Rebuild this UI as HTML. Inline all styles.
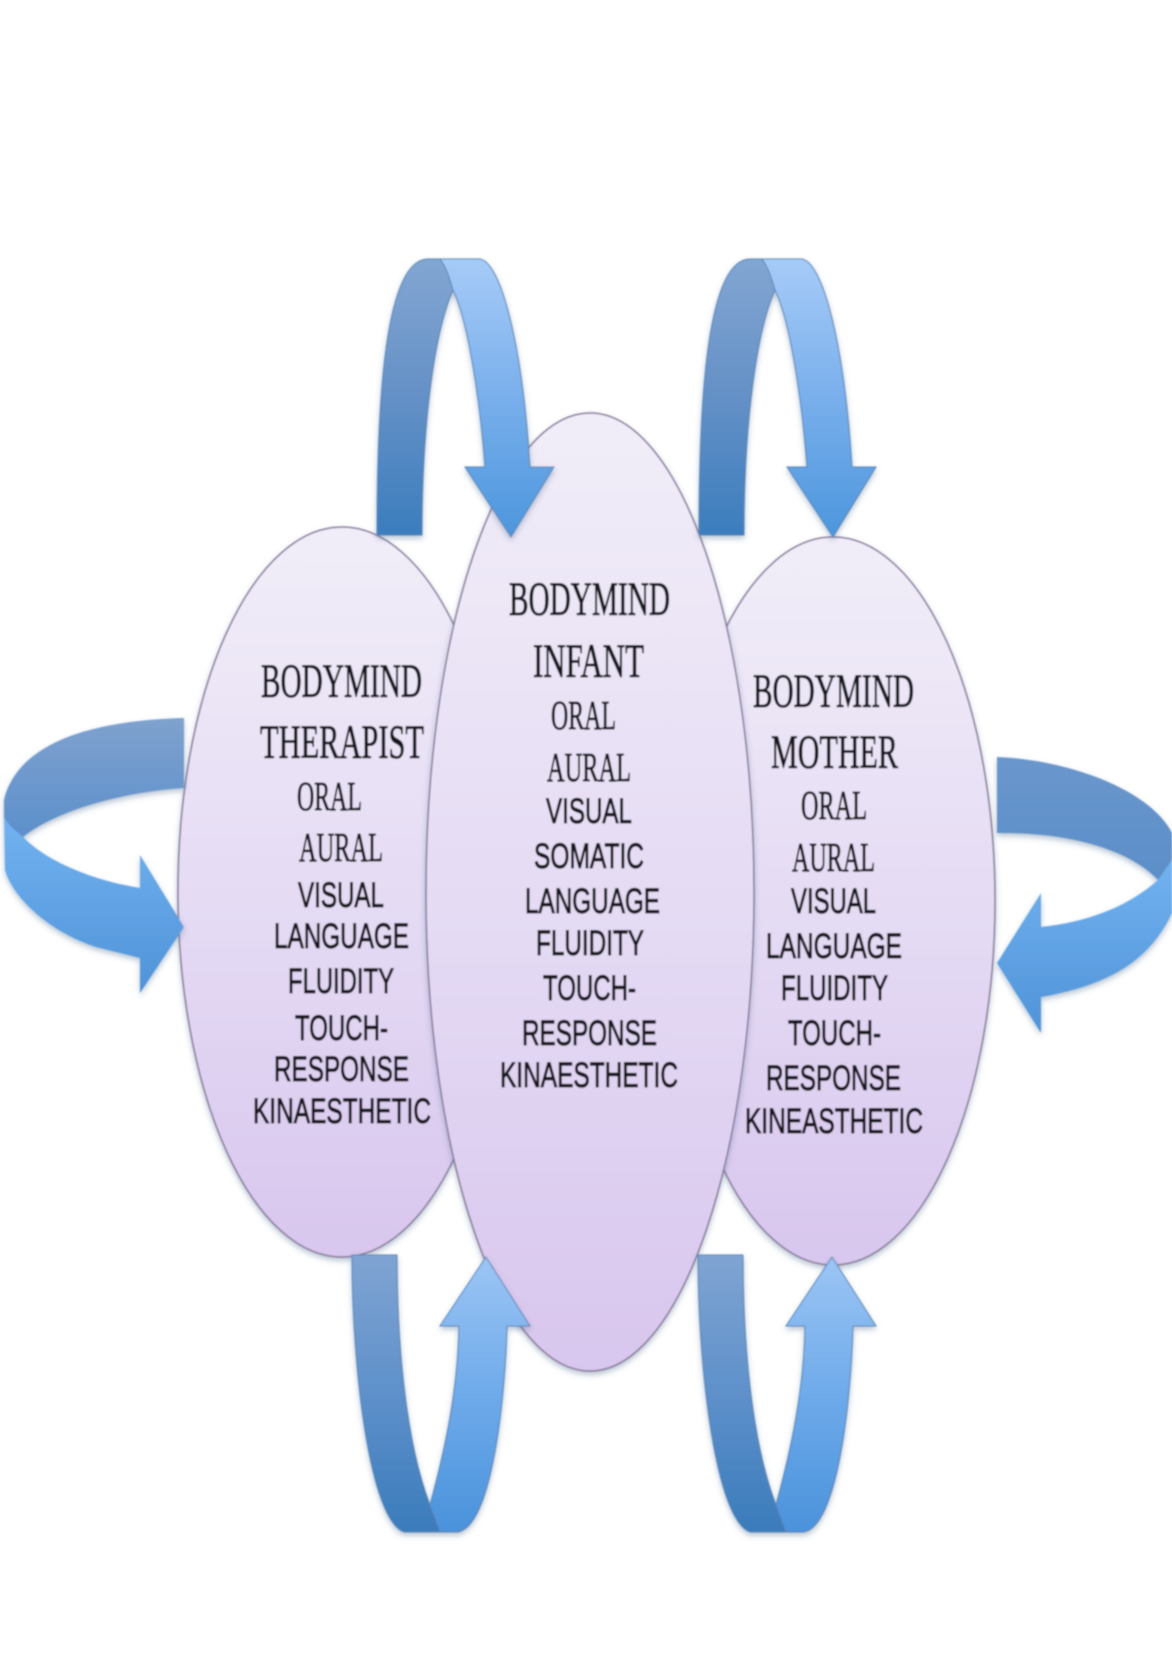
<!DOCTYPE html>
<html>
<head>
<meta charset="utf-8">
<style>
html,body{margin:0;padding:0;background:#fff;width:1172px;height:1660px;overflow:hidden}
svg{display:block}
text{stroke:#1a1a24;paint-order:stroke}
.t{font-family:"Liberation Serif",serif;font-size:48px;fill:#14141e;stroke-width:.9px}
.s{font-family:"Liberation Serif",serif;font-size:41px;fill:#14141e;stroke-width:.9px}
.a{font-family:"Liberation Sans",sans-serif;font-size:35px;fill:#14141e;stroke-width:1px}
</style>
</head>
<body>
<svg xmlns="http://www.w3.org/2000/svg" width="1172" height="1660" viewBox="0 0 1172 1660">
<defs>
<linearGradient id="lil" x1="0" y1="0" x2="0" y2="1"><stop offset="0" stop-color="#f1edf8"/><stop offset=".5" stop-color="#e5dcf4"/><stop offset="1" stop-color="#d8c6ee"/></linearGradient>
<linearGradient id="dk" x1="0" y1="0" x2="0" y2="1"><stop offset="0" stop-color="#82a6d2"/><stop offset=".5" stop-color="#6490c6"/><stop offset="1" stop-color="#3b7dbd"/></linearGradient>
<linearGradient id="lt" x1="0" y1="0" x2="0" y2="1"><stop offset="0" stop-color="#a6cbf8"/><stop offset=".55" stop-color="#74acea"/><stop offset="1" stop-color="#4c96dd"/></linearGradient>
<linearGradient id="dk2" x1="0" y1="0" x2="0" y2="1"><stop offset="0" stop-color="#7fa4d2"/><stop offset=".5" stop-color="#5e90ca"/><stop offset="1" stop-color="#3a7bbb"/></linearGradient>
<linearGradient id="lt2" x1="0" y1="0" x2="0" y2="1"><stop offset="0" stop-color="#9cc5f5"/><stop offset=".5" stop-color="#6eaaea"/><stop offset="1" stop-color="#4a92db"/></linearGradient>
<linearGradient id="sb" x1="0" y1="0" x2="0" y2="1"><stop offset="0" stop-color="#7fa2ce"/><stop offset="1" stop-color="#5c8fcb"/></linearGradient>
<linearGradient id="sf" x1="0" y1="0" x2="0" y2="1"><stop offset="0" stop-color="#72b2f0"/><stop offset="1" stop-color="#4f93d8"/></linearGradient>
<linearGradient id="rb" x1="0" y1="0" x2="0" y2="1"><stop offset="0" stop-color="#6a96cc"/><stop offset="1" stop-color="#5b8ec8"/></linearGradient>
<filter id="sh" x="-10%" y="-10%" width="120%" height="120%"><feDropShadow dx="0" dy="3" stdDeviation="3" flood-color="#4a6a90" flood-opacity=".4"/></filter>
<filter id="soft" x="-2%" y="-2%" width="104%" height="104%"><feGaussianBlur stdDeviation=".7"/></filter>
</defs>
<rect width="1172" height="1660" fill="#fff"/>
<g filter="url(#soft)">
<g stroke="#85799a" stroke-width="1.5" fill="url(#lil)">
<ellipse cx="342" cy="892" rx="164" ry="365" filter="url(#sh)"/>
<ellipse cx="833" cy="901" rx="162" ry="364" filter="url(#sh)"/>
<ellipse cx="590" cy="892" rx="164" ry="479" filter="url(#sh)"/>
</g>
<g stroke="#5d86b6" stroke-width="1">
<g filter="url(#sh)">
<path fill="url(#dk)" d="M377,535 C377,400 385,259 428,259 L440,259 C448,268 451,280 453,290 C435,330 422,420 422,535 Z"/>
<path fill="url(#lt)" d="M440,259 L480,259 C500,262 522,340 530,467 L554,467 L511,537 L465,467 L485,467 C480,400 468,320 453,290 C450,280 447,268 440,259 Z"/>
</g>
<g filter="url(#sh)" transform="translate(322,0)">
<path fill="url(#dk)" d="M377,535 C377,400 385,259 428,259 L440,259 C448,268 451,280 453,290 C435,330 422,420 422,535 Z"/>
<path fill="url(#lt)" d="M440,259 L480,259 C500,262 522,340 530,467 L554,467 L511,537 L465,467 L485,467 C480,400 468,320 453,290 C450,280 447,268 440,259 Z"/>
</g>
<g filter="url(#sh)">
<path fill="url(#dk2)" d="M352,1255 L397,1255 C397,1340 405,1440 430,1505 L440,1532 L404,1532 C370,1520 352,1370 352,1255 Z"/>
<path fill="url(#lt2)" d="M430,1505 C445,1450 458,1390 459,1326 L440,1326 L486,1257 L530,1326 L507,1326 C505,1400 492,1525 458,1532 L440,1532 Z"/>
</g>
<g filter="url(#sh)" transform="translate(346,0)">
<path fill="url(#dk2)" d="M352,1255 L397,1255 C397,1340 405,1440 430,1505 L440,1532 L404,1532 C370,1520 352,1370 352,1255 Z"/>
<path fill="url(#lt2)" d="M430,1505 C445,1450 458,1390 459,1326 L440,1326 L486,1257 L530,1326 L507,1326 C505,1400 492,1525 458,1532 L440,1532 Z"/>
</g>
</g>
<g filter="url(#sh)">
<path fill="url(#sb)" d="M184,718 C110,720 20,735 4,800 L4,817 C6,825 15,830 23,837 C50,815 110,793 184,788 Z"/>
<path fill="url(#sf)" d="M4,817 L5,870 C12,895 45,930 96,947 L140,958 L140,993 L184,927 L140,855 L140,888 C90,880 45,860 23,837 C15,830 8,825 4,817 Z"/>
</g>
<g filter="url(#sh)">
<path fill="url(#rb)" d="M997,757 C1070,760 1150,790 1172,833 L1172,860 L1158,880 C1130,850 1070,832 997,833 Z"/>
<path fill="url(#sf)" d="M1158,880 L1172,860 L1172,913 C1150,960 1110,985 1041,997 L1041,1033 L997,963 L1041,893 L1041,927 C1090,922 1130,905 1158,880 Z"/>
</g>
<!-- Therapist -->
<text class="t" x="261" y="697" textLength="161" lengthAdjust="spacingAndGlyphs">BODYMIND</text>
<text class="t" x="260" y="758" textLength="164" lengthAdjust="spacingAndGlyphs">THERAPIST</text>
<text class="s" x="297" y="810" textLength="65" lengthAdjust="spacingAndGlyphs">ORAL</text>
<text class="s" x="299" y="861" textLength="84" lengthAdjust="spacingAndGlyphs">AURAL</text>
<text class="a" x="298" y="907" textLength="86" lengthAdjust="spacingAndGlyphs">VISUAL</text>
<text class="a" x="274" y="948" textLength="135" lengthAdjust="spacingAndGlyphs">LANGUAGE</text>
<text class="a" x="288" y="993" textLength="106" lengthAdjust="spacingAndGlyphs">FLUIDITY</text>
<text class="a" x="295" y="1040" textLength="93" lengthAdjust="spacingAndGlyphs">TOUCH-</text>
<text class="a" x="274" y="1081" textLength="135" lengthAdjust="spacingAndGlyphs">RESPONSE</text>
<text class="a" x="253" y="1123" textLength="178" lengthAdjust="spacingAndGlyphs">KINAESTHETIC</text>
<!-- Infant -->
<text class="t" x="509" y="615" textLength="161" lengthAdjust="spacingAndGlyphs">BODYMIND</text>
<text class="t" x="533" y="677" textLength="111" lengthAdjust="spacingAndGlyphs">INFANT</text>
<text class="s" x="551" y="729" textLength="65" lengthAdjust="spacingAndGlyphs">ORAL</text>
<text class="s" x="547" y="781" textLength="84" lengthAdjust="spacingAndGlyphs">AURAL</text>
<text class="a" x="546" y="823" textLength="86" lengthAdjust="spacingAndGlyphs">VISUAL</text>
<text class="a" x="534" y="868" textLength="110" lengthAdjust="spacingAndGlyphs">SOMATIC</text>
<text class="a" x="525" y="913" textLength="135" lengthAdjust="spacingAndGlyphs">LANGUAGE</text>
<text class="a" x="536" y="955" textLength="108" lengthAdjust="spacingAndGlyphs">FLUIDITY</text>
<text class="a" x="543" y="1000" textLength="93" lengthAdjust="spacingAndGlyphs">TOUCH-</text>
<text class="a" x="522" y="1045" textLength="135" lengthAdjust="spacingAndGlyphs">RESPONSE</text>
<text class="a" x="500" y="1087" textLength="178" lengthAdjust="spacingAndGlyphs">KINAESTHETIC</text>
<!-- Mother -->
<text class="t" x="753" y="707" textLength="161" lengthAdjust="spacingAndGlyphs">BODYMIND</text>
<text class="t" x="771" y="768" textLength="127" lengthAdjust="spacingAndGlyphs">MOTHER</text>
<text class="s" x="801" y="819" textLength="66" lengthAdjust="spacingAndGlyphs">ORAL</text>
<text class="s" x="792" y="871" textLength="83" lengthAdjust="spacingAndGlyphs">AURAL</text>
<text class="a" x="791" y="913" textLength="85" lengthAdjust="spacingAndGlyphs">VISUAL</text>
<text class="a" x="766" y="958" textLength="136" lengthAdjust="spacingAndGlyphs">LANGUAGE</text>
<text class="a" x="781" y="1000" textLength="107" lengthAdjust="spacingAndGlyphs">FLUIDITY</text>
<text class="a" x="788" y="1045" textLength="93" lengthAdjust="spacingAndGlyphs">TOUCH-</text>
<text class="a" x="766" y="1090" textLength="135" lengthAdjust="spacingAndGlyphs">RESPONSE</text>
<text class="a" x="745" y="1133" textLength="178" lengthAdjust="spacingAndGlyphs">KINEASTHETIC</text>
</g>
</svg>
</body>
</html>
